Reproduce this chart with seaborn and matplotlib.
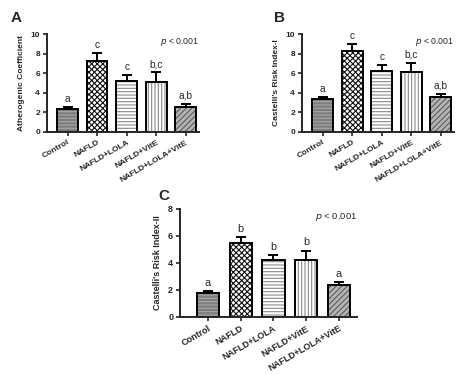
import pandas as pd
import numpy as np
import matplotlib
matplotlib.use('Agg')
import matplotlib.pyplot as plt
import seaborn as sns

# data
groups = ['Control', 'NAFLD', 'NAFLD+LOLA', 'NAFLD+VitE', 'NAFLD+LOLA+VitE']

ac_mean = [2.35, 7.3, 5.25, 5.1, 2.55]
ac_err = [0.2, 0.8, 0.6, 1.0, 0.35]
ac_sig = ['a', 'c', 'c', 'b,c', 'a,b']

cri1_mean = [3.4, 8.3, 6.25, 6.1, 3.55]
cri1_err = [0.2, 0.7, 0.6, 1.0, 0.35]
cri1_sig = ['a', 'c', 'c', 'b,c', 'a,b']

cri2_mean = [1.8, 5.5, 4.2, 4.25, 2.35]
cri2_err = [0.1, 0.4, 0.4, 0.65, 0.25]
cri2_sig = ['a', 'b', 'b', 'b', 'a']

# styles
faces = ['#7d7d7d', '#ffffff', '#ffffff', '#ffffff', '#b4b4b4']
hatch_cols = ['#a8a8a8', '#111111', '#8a8a8a', '#8a8a8a', '#5a5a5a']
hatches = ['-----', 'xxxxxx', '-----', '|||||', '//////']

sns.set_style('ticks')
plt.rcParams['font.family'] = ['Liberation Sans', 'DejaVu Sans']
plt.rcParams['hatch.linewidth'] = 0.8


def panel(ax, means, errs, sig, ylabel, ymax, xlim, bw, fs):
    df = pd.DataFrame({'group': groups, 'value': means})
    sns.barplot(data=df, x='group', y='value', errorbar=None,
                width=bw, linewidth=0, ax=ax)
    for p, fc, hc, h in zip(ax.patches, faces, hatch_cols, hatches):
        p.set_facecolor(fc)
        p.set_edgecolor(hc)
        p.set_hatch(h)
        p.set_linewidth(0)
    x = np.arange(len(groups))
    ax.errorbar(x, means, yerr=[np.zeros(len(errs)), errs], fmt='none',
                ecolor='black', elinewidth=1.4, capsize=3.6, capthick=1.4,
                zorder=1)
    sns.barplot(data=df, x='group', y='value', errorbar=None, fill=False,
                width=bw, edgecolor='black', linewidth=1.4, ax=ax)
    for xi, m, e, s in zip(x, means, errs, sig):
        ax.text(xi, m + e + ymax * 0.03, s, ha='center', va='bottom',
                fontsize=fs + 1.3)
    ax.text(1.0, 0.98, r'$\it{p}$ < 0.001', transform=ax.transAxes,
            ha='right', va='top', fontsize=fs + 0.3)
    ax.set_ylim(0, ymax)
    ax.set_yticks(np.arange(0, ymax + 1, 2))
    ax.set_xlim(*xlim)
    ax.set_xlabel('')
    ax.set_ylabel(ylabel, fontsize=fs, fontweight='bold', labelpad=4)
    ax.set_xticks(x)
    ax.set_xticklabels(groups, rotation=30, ha='right',
                       rotation_mode='anchor', fontsize=fs,
                       fontweight='bold')
    for lab in ax.get_yticklabels():
        lab.set_fontsize(fs)
        lab.set_fontweight('bold')
    ax.tick_params(width=1.2, length=3, pad=2)
    sns.despine(ax=ax)
    for sp in ['left', 'bottom']:
        ax.spines[sp].set_linewidth(1.4)


fig = plt.figure(figsize=(4.74, 3.75), dpi=100)

ax1 = fig.add_axes([0.099, 0.648, 0.321, 0.261])
panel(ax1, ac_mean, ac_err, ac_sig, 'Atherogenic Coefficient', 10,
      (-0.7, 4.45), 0.7, 6.0)

ax2 = fig.add_axes([0.637, 0.648, 0.321, 0.261])
panel(ax2, cri1_mean, cri1_err, cri1_sig, "Castelli's Risk Index-I", 10,
      (-0.7, 4.45), 0.7, 6.0)

ax3 = fig.add_axes([0.380, 0.155, 0.373, 0.288])
panel(ax3, cri2_mean, cri2_err, cri2_sig, "Castelli's Risk Index-II", 8,
      (-0.85, 4.55), 0.68, 6.5)

fig.text(0.022, 0.952, 'A', fontsize=11, fontweight='bold', va='center')
fig.text(0.578, 0.952, 'B', fontsize=11, fontweight='bold', va='center')
fig.text(0.335, 0.477, 'C', fontsize=11, fontweight='bold', va='center')

plt.savefig('out.png', dpi=100)
